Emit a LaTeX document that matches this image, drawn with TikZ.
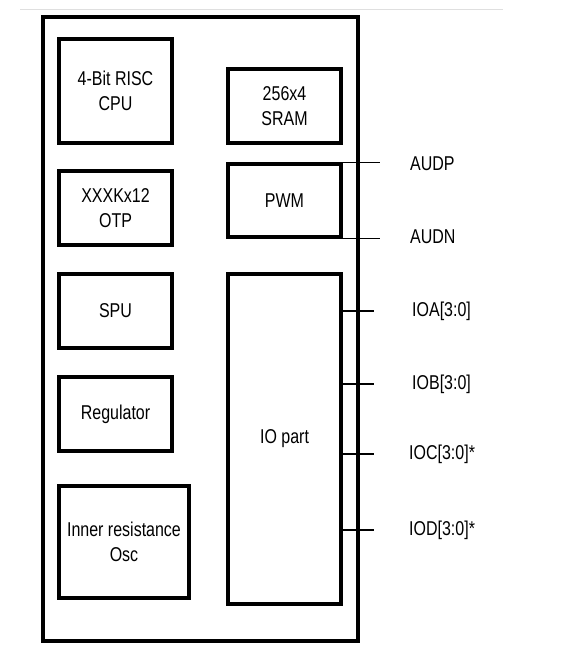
\documentclass[tikz,border=0pt]{standalone}
\usepackage{fontspec}
\setmainfont[FakeStretch=0.8]{Liberation Sans}
\usepackage{xcolor}

\begin{document}
\begin{tikzpicture}[x=1pt, y=-1pt, font=\fontsize{20}{25}\selectfont,
        block/.style={draw, rectangle, line width=3.3pt, align=center, inner sep=0pt},
        pin/.style={line width=1.5pt},
        pinlabel/.style={anchor=west, inner sep=0pt}]
        \useasboundingbox[fill=white] (0,0) rectangle (564,660);
        \draw[gray!25, line width=1pt] (20,10) -- (503,10);

        % Chip outline
        \node[block, minimum width=315pt, minimum height=624pt] (Chip) at (200.5,329) {};

        % Left column
        \node[block, minimum width=113pt, minimum height=104pt] (CPU) at (115.5,91) {4-Bit RISC\\CPU};
        \node[block, minimum width=113pt, minimum height=74pt] (OTP) at (115.5,208) {XXXKx12\\OTP};
        \node[block, minimum width=113pt, minimum height=74pt] (SPU) at (115.5,311) {SPU};
        \node[block, minimum width=113pt, minimum height=74pt] (Reg) at (115.5,414) {Regulator};
        \node[block, minimum width=130pt, minimum height=112pt] (Osc) at (124,542) {Inner resistance\\Osc};

        % Right column
        \node[block, minimum width=113pt, minimum height=74pt] (SRAM) at (284.5,106) {256x4\\SRAM};
        \node[block, minimum width=113pt, minimum height=73pt] (PWM) at (284.5,200.5) {PWM};
        \node[block, minimum width=113pt, minimum height=330pt] (IO) at (284.5,439) {IO part};

        % Pin labels
        \node[pinlabel] (AUDP) at (410,164) {AUDP};
        \node[pinlabel] (AUDN) at (410,237) {AUDN};
        \node[pinlabel] (IOA) at (412,311) {IOA[3:0]};
        \node[pinlabel] (IOB) at (412,384) {IOB[3:0]};
        \node[pinlabel] (IOC) at (409,454) {IOC[3:0]*};
        \node[pinlabel] (IOD) at (409,530) {IOD[3:0]*};
        \coordinate (AudioEnd) at (380,0);
        \coordinate (PortEnd) at (374,0);

        % Pins
        \draw[pin] (PWM.north east) -- (PWM.north east -| AudioEnd);
        \draw[pin] (PWM.south east) -- (PWM.south east -| AudioEnd);
        \draw[pin] (IO.east |- IOA) -- (PortEnd |- IOA);
        \draw[pin] (IO.east |- IOB) -- (PortEnd |- IOB);
        \draw[pin] (IO.east |- IOC) -- (PortEnd |- IOC);
        \draw[pin] (IO.east |- IOD) -- (PortEnd |- IOD);
\end{tikzpicture}
\end{document}
